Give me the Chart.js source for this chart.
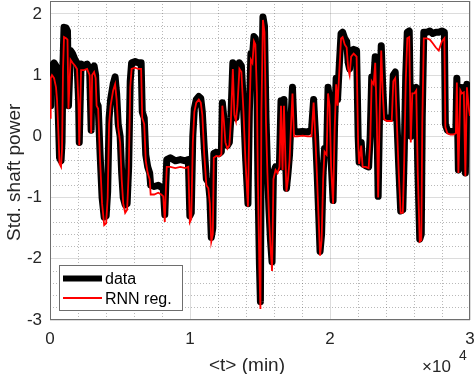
<!DOCTYPE html>
<html>
<head>
<meta charset="utf-8">
<script src="https://cdn.jsdelivr.net/npm/chart.js@4.4.1/dist/chart.umd.min.js"></script>
<style>
  html, body { margin: 0; padding: 0; background: #fff; }
  #wrap { width: 474px; height: 374px; }
</style>
</head>
<body>
<div id="wrap"><canvas id="shaftChart" width="474" height="374"></canvas></div>
<script>
// time stamps (min)
const times = [
  0, 50, 140, 290, 430, 500, 610, 680, 790, 860,
  930, 1000, 1150, 1250, 1320, 1400, 1470, 1610, 1790, 1930,
  2040, 2090, 2150, 2220, 2430, 2650, 2830, 2940, 3010, 3150,
  3260, 3330, 3440, 3580, 3720, 3870, 4010, 4120, 4220, 4330,
  4510, 4650, 4760, 4870, 5010, 5120, 5230, 5370, 5510, 5620,
  5730, 5830, 6080, 6300, 6510, 6590, 6730, 6840, 6980, 7120,
  7190, 7440, 7730, 7950, 8090, 8200, 8270, 8340, 8590, 8950,
  9310, 9660, 9880, 9990, 10090, 10200, 10310, 10450, 10630, 10770,
  10880, 11020, 11170, 11310, 11420, 11520, 11630, 11700, 11880, 12100,
  12240, 12310, 12420, 12530, 12670, 12810, 12920, 13060, 13170, 13280,
  13390, 13530, 13670, 13820, 13960, 14140, 14240, 14350, 14460, 14570,
  14670, 14780, 14850, 14960, 15030, 15100, 15210, 15320, 15430, 15530,
  15640, 15750, 15860, 15960, 16110, 16250, 16390, 16500, 16610, 16710,
  16820, 16890, 17000, 17110, 17220, 17320, 17430, 17680, 18040, 18400,
  18680, 18830, 18970, 19080, 19180, 19290, 19400, 19510, 19610, 19760,
  19860, 19970, 20080, 20220, 20330, 20440, 20540, 20650, 20790, 20900,
  21050, 21190, 21300, 21400, 21510, 21690, 21900, 22010, 22080, 22230,
  22330, 22550, 22760, 22870, 22980, 23120, 23230, 23340, 23440, 23550,
  23660, 23770, 23870, 24050, 24270, 24410, 24520, 24660, 24770, 24910,
  25050, 25200, 25300, 25410, 25520, 25660, 25770, 25880, 26020, 26160,
  26270, 26410, 26520, 26590, 26700, 26910, 27130, 27340, 27560, 27770,
  27990, 28170, 28240, 28380, 28600, 28810, 28990, 29060, 29170, 29310,
  29420, 29560, 29670, 29780, 29920, 30000
];

// measured (standardised) shaft power
const shaftPower = [
  0.5, 1.0, 1.15, 1.2, 1.15, 1.1, 0.2, -0.35, -0.4, -0.1,
  1.2, 1.78, 1.77, 1.72, 0.5, 1.0, 1.4, 1.35, 1.25, 1.2,
  0.6, -0.1, 0.5, 1.18, 1.15, 1.18, 1.1, 0.1, 1.1, 1.15,
  1.0, 0.55, 0.5, -0.3, -1.0, -1.32, -1.3, -0.9, 0.3, 0.6,
  0.85, 0.97, 0.7, 0.2, 0.0, -0.6, -1.0, -1.12, -1.1, -0.5,
  0.9, 1.2, 1.22, 1.2, 1.2, 0.4, 0.3, -0.3, -0.5, -0.6,
  -0.8, -0.82, -0.8, -0.83, -0.85, -1.28, -0.8, -0.38, -0.35, -0.4,
  -0.38, -0.4, -0.38, -1.3, -1.25, 0.0, 0.45, 0.6, 0.65, 0.62,
  0.4, -0.2, -0.7, -0.75, -1.0, -1.65, -1.5, -0.28, -0.26, -0.28,
  -0.25, 0.55, 0.3, -0.05, -0.15, -0.1, 0.3, 1.2, 0.4, 0.3,
  0.6, 1.2, 1.15, 0.5, -0.3, -1.1, 0.4, 1.35, 1.3, 1.63,
  1.6, 0.8, -0.7, -2.1, -2.7, 0.5, 1.95, 1.8, 0.3, -0.5,
  -1.2, -1.7, -2.05, -0.6, -0.5, -0.52, -0.45, 0.58, -0.5, 0.6,
  -0.3, -0.85, -0.6, -0.3, 0.3, 0.8, 0.1, 0.07, 0.08, 0.07,
  0.1, 0.6, 0.0, -0.6, -1.2, -1.88, -1.6, -0.6, -0.2, -0.25,
  0.8, 0.6, -0.4, -1.05, 0.2, 0.95, 0.6, 1.1, 1.68, 1.7,
  1.6, 1.55, 1.2, 1.1, 1.4, 1.42, 1.4, 0.0, -0.42, -0.1,
  -0.45, -0.48, -0.5, 0.0, 0.97, 0.9, 1.3, 0.4, -0.98, 0.5,
  1.48, 0.8, 0.32, 0.3, 0.3, 0.3, 1.0, 1.05, 0.3, -0.5,
  -1.22, -1.2, -0.3, 1.0, 1.7, 1.72, 0.0, 0.8, 0.75, 0.8,
  -0.5, -1.68, -1.6, 0.3, 1.7, 1.7, 1.72, 1.68, 1.7, 1.7,
  1.72, 1.7, 0.2, 0.1, 0.08, 0.08, 0.08, 0.95, -0.55, 0.8,
  0.75, 0.8, -0.6, 0.85, 0.5, 0.38
];

// RNN regression output
const rnnPrediction = [
  0.3, 0.95, 1.0, 0.95, 0.8, 0.6, 0.0, -0.45, -0.5, -0.2,
  1.1, 1.62, 1.6, 1.58, 0.45, 0.9, 1.25, 1.2, 1.15, 1.1,
  0.5, -0.15, 0.4, 1.08, 1.08, 1.1, 1.0, 0.05, 1.0, 1.05,
  0.95, 0.5, 0.45, -0.4, -1.1, -1.45, -1.42, -1.0, 0.2, 0.5,
  0.75, 0.85, 0.6, 0.15, -0.1, -0.7, -1.1, -1.25, -1.2, -0.6,
  0.8, 1.1, 1.12, 1.1, 1.1, 0.3, 0.2, -0.4, -0.6, -0.7,
  -0.95, -0.95, -0.92, -0.95, -0.98, -1.4, -0.9, -0.5, -0.5, -0.52,
  -0.5, -0.52, -0.5, -1.4, -1.35, -0.1, 0.4, 0.55, 0.6, 0.55,
  0.35, -0.3, -0.8, -0.85, -1.1, -1.72, -1.6, -0.35, -0.32, -0.33,
  -0.3, 0.5, 0.25, -0.1, -0.2, -0.15, 0.25, 1.1, 0.35, 0.25,
  0.5, 1.1, 1.05, 0.4, -0.4, -1.15, 0.3, 1.25, 1.2, 1.55,
  1.5, 0.7, -0.75, -2.2, -2.82, 0.4, 1.9, 1.7, 0.2, -0.6,
  -1.3, -1.8, -2.2, -0.7, -0.55, -0.6, -0.5, 0.5, -0.55, 0.5,
  -0.4, -0.9, -0.7, -0.4, 0.2, 0.7, 0.0, 0.0, 0.01, 0.0,
  0.0, 0.55, -0.1, -0.7, -1.3, -1.95, -1.7, -0.7, -0.25, -0.3,
  0.7, 0.5, -0.5, -1.1, 0.1, 0.85, 0.5, 1.0, 1.6, 1.62,
  1.5, 1.45, 1.1, 1.0, 1.3, 1.35, 1.3, -0.1, -0.45, -0.15,
  -0.5, -0.5, -0.52, -0.1, 0.9, 0.85, 1.2, 0.3, -1.0, 0.4,
  1.4, 0.7, 0.28, 0.25, 0.25, 0.25, 0.9, 0.95, 0.25, -0.6,
  -1.25, -1.25, -0.4, 0.9, 1.6, 1.62, -0.1, 0.7, 0.7, 0.75,
  -0.6, -1.72, -1.7, 0.2, 1.6, 1.6, 1.58, 1.52, 1.45, 1.4,
  1.55, 1.6, 0.15, 0.05, 0.03, 0.03, 0.05, 0.88, -0.6, 0.75,
  0.7, 0.72, -0.65, 0.8, 0.45, 0.33
];

const xTicks = [0, 10000, 20000, 30000];
const yTicks = [-3, -2, -1, 0, 1, 2];

const axisInk = '#262626';
const frameInk = '#6e6e6e';
const majorGrid = 'rgba(38,38,38,0.16)';
const minorGrid = 'rgba(38,38,38,0.32)';

Chart.defaults.font.family = "'Liberation Sans', Arial, Helvetica, sans-serif";

const isOn = (list, v) => list.some(t => Math.abs(t - v) < 1e-6);
const toPoints = vals => times.map((t, i) => ({ x: t, y: vals[i] }));

// box, legend, axis labels and the x10^4 multiplier (MATLAB look)
const matlabDecor = {
  id: 'matlabDecor',
  beforeDatasetsDraw(chart) {
    const { ctx, chartArea: a } = chart;
    ctx.save();
    ctx.strokeStyle = frameInk;
    ctx.lineWidth = 1;
    ctx.strokeRect(a.left + 0.5, a.top + 0.5, a.right - a.left - 1, a.bottom - a.top - 1);
    ctx.restore();
  },
  afterDatasetsDraw(chart) {
    const { ctx, chartArea: a } = chart;
    const bx = a.left + 9.5, by = a.bottom - 54.5, bw = 123, bh = 45;
    ctx.save();
    ctx.fillStyle = '#fff';
    ctx.fillRect(bx, by, bw, bh);
    ctx.strokeStyle = frameInk;
    ctx.lineWidth = 1;
    ctx.strokeRect(bx, by, bw, bh);
    ctx.font = "16px 'Liberation Sans', Arial, sans-serif";
    ctx.fillStyle = '#000';
    ctx.textBaseline = 'alphabetic';
    ctx.textAlign = 'left';
    chart.data.datasets.forEach((ds, i) => {
      const cy = by + 13 + i * 19.5;
      ctx.beginPath();
      ctx.strokeStyle = ds.borderColor;
      ctx.lineWidth = Math.min(ds.borderWidth, 6);
      ctx.lineCap = 'butt';
      ctx.moveTo(bx + 3.5, cy);
      ctx.lineTo(bx + 42.5, cy);
      ctx.stroke();
      ctx.fillText(ds.label, bx + 45.5, cy + 5.5);
    });
    ctx.restore();
  },
  afterDraw(chart) {
    const { ctx } = chart;
    ctx.save();
    ctx.fillStyle = axisInk;
    ctx.textBaseline = 'alphabetic';
    ctx.textAlign = 'left';
    ctx.font = "19px 'Liberation Sans', Arial, sans-serif";
    ctx.fillText('<t> (min)', 209, 371);
    ctx.save();
    ctx.translate(20, 241);
    ctx.rotate(-Math.PI / 2);
    ctx.fillText('Std. shaft power', 0, 0);
    ctx.restore();
    ctx.font = "17px 'Liberation Sans', Arial, sans-serif";
    ctx.fillText('\u00d710', 422, 372);
    ctx.font = "14px 'Liberation Sans', Arial, sans-serif";
    ctx.fillText('4', 459, 360);
    ctx.restore();
  }
};

new Chart(document.getElementById('shaftChart'), {
  type: 'line',
  data: {
    datasets: [
      {
        label: 'data',
        data: toPoints(shaftPower),
        borderColor: '#000000',
        borderWidth: 7,
        borderJoinStyle: 'round',
        borderCapStyle: 'round',
        pointRadius: 0,
        tension: 0,
        order: 2
      },
      {
        label: 'RNN reg.',
        data: toPoints(rnnPrediction),
        borderColor: '#ff0000',
        borderWidth: 1.8,
        pointRadius: 0,
        tension: 0,
        order: 1
      }
    ]
  },
  options: {
    responsive: false,
    animation: false,
    devicePixelRatio: 1,
    layout: { padding: { top: 1, right: 4, left: 0, bottom: 0 } },
    plugins: { legend: { display: false }, tooltip: { enabled: false } },
    scales: {
      x: {
        type: 'linear',
        min: 0,
        max: 30000,
        afterFit: s => { s.height = 54; s.paddingLeft = 0; s.paddingRight = 0; },
        ticks: {
          stepSize: 2000,
          autoSkip: false,
          maxRotation: 0,
          includeBounds: false,
          padding: 9,
          color: axisInk,
          font: { size: 17 },
          callback: v => isOn(xTicks, v) ? String(v / 10000) : ''
        },
        grid: {
          drawTicks: false,
          color: c => (c.tick && isOn(xTicks, c.tick.value)) ? majorGrid : minorGrid
        },
        border: {
          display: false,
          dash: c => (c.tick && !isOn(xTicks, c.tick.value)) ? [1, 2] : []
        }
      },
      y: {
        min: -3,
        max: 2.21,
        afterFit: s => { s.width = 50; s.paddingTop = 0; s.paddingBottom = 0; },
        ticks: {
          stepSize: 0.2,
          autoSkip: false,
          includeBounds: false,
          padding: 8,
          color: axisInk,
          font: { size: 17 },
          callback: v => isOn(yTicks, v) ? String(Math.round(v)) : ''
        },
        grid: {
          drawTicks: false,
          color: c => (c.tick && isOn(yTicks, c.tick.value)) ? majorGrid : minorGrid
        },
        border: {
          display: false,
          dash: c => (c.tick && !isOn(yTicks, c.tick.value)) ? [1, 2] : []
        }
      }
    }
  },
  plugins: [matlabDecor]
});
</script>
</body>
</html>
